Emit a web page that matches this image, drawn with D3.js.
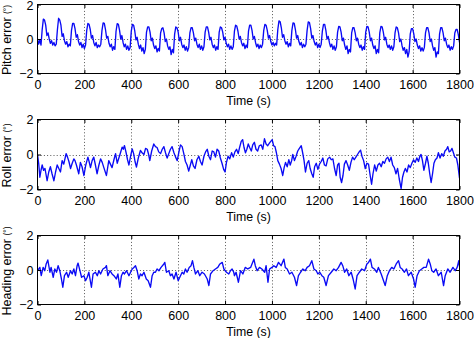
<!DOCTYPE html>
<html><head><meta charset="utf-8">
<script src="https://cdn.jsdelivr.net/npm/d3@7"></script>
<style>
body{margin:0;background:#fff}
svg{display:block}
text{font-family:"Liberation Sans",Arial,Helvetica,sans-serif;fill:#000}
</style>
</head><body>
<svg id="chart" width="474" height="338"></svg>
<script>
// ---------- data ----------
const xTicks = [0,200,400,600,800,1000,1200,1400,1600,1800];
const yTicks = [-2,0,2];
const yTickLabels = ["\u22122","0","2"];
const xLabel = "Time (s)";
const yLabels = ["Pitch error","Roll error","Heading error"];
const unitLabel = "(\u00b0)";

// pitch error sampled every 5 s (0..1800)
const pitchStep = 5;
const pitch = [
0.0,-0.3,-0.05,-0.35,0.55,
1.15,1.1,0.8,0.2,0.35,0.0,-0.25,-0.1,-0.35,-0.2,-0.4,-0.3,0.55,
1.2,1.1,0.8,0.15,0.3,-0.1,-0.3,-0.15,-0.45,-0.3,-0.4,0.5,
0.9,0.9,0.6,0.1,0.25,-0.15,-0.35,-0.2,-0.5,-0.3,-0.55,-0.35,0.5,
0.9,0.85,0.55,0.05,0.2,-0.2,-0.4,-0.2,-0.5,-0.35,-0.45,-0.3,0.5,
0.93,0.9,0.55,0.05,0.15,-0.25,-0.45,-0.3,-0.65,-0.45,-0.6,0.45,
0.89,0.85,0.5,0.0,0.2,-0.2,-0.45,-0.3,-0.6,-0.4,-0.65,-0.5,0.45,
0.85,0.8,0.45,-0.05,0.1,-0.3,-0.55,-0.35,-0.7,-0.5,-0.85,-0.6,0.4,
0.7,0.7,0.4,-0.1,0.05,-0.35,-0.55,-0.4,-0.75,-0.55,-0.7,0.35,
0.6,0.65,0.35,-0.15,0.0,-0.4,-0.6,-0.45,-0.9,-0.6,-0.8,0.3,
0.7,0.65,0.4,-0.1,0.1,-0.3,-0.5,-0.35,-0.65,-0.45,-0.7,-0.5,0.35,
0.66,0.65,0.35,-0.1,0.05,-0.3,-0.5,-0.3,-0.6,-0.4,-0.65,-0.45,0.4,
0.7,0.7,0.4,-0.05,0.1,-0.3,-0.5,-0.35,-0.65,-0.45,-0.6,0.4,
0.7,0.65,0.4,-0.05,0.1,-0.25,-0.45,-0.3,-0.6,-0.4,-0.6,-0.45,0.45,
0.8,0.75,0.45,0.0,0.15,-0.2,-0.4,-0.25,-0.55,-0.35,-0.5,0.45,
0.8,0.8,0.5,0.0,0.15,-0.2,-0.45,-0.3,-0.55,-0.35,-0.5,-0.3,0.5,
0.85,0.8,0.5,0.05,0.2,-0.15,-0.35,-0.2,-0.4,-0.25,-0.35,0.55,
1.05,1.0,0.65,0.1,0.25,-0.1,-0.3,-0.15,-0.45,-0.25,-0.4,0.5,
0.93,0.9,0.55,0.05,0.2,-0.15,-0.35,-0.2,-0.5,-0.3,-0.45,-0.3,0.5,
0.99,0.95,0.6,0.05,0.2,-0.15,-0.35,-0.2,-0.5,-0.3,-0.5,-0.3,0.45,
0.85,0.85,0.5,0.0,0.15,-0.2,-0.45,-0.3,-0.6,-0.4,-0.65,-0.45,0.4,
0.73,0.7,0.4,-0.1,0.05,-0.35,-0.6,-0.4,-0.85,-0.6,-0.75,0.35,
0.66,0.65,0.35,-0.1,0.05,-0.3,-0.5,-0.35,-0.65,-0.45,-0.6,0.4,
0.73,0.7,0.4,-0.1,0.05,-0.35,-0.55,-0.4,-0.85,-0.6,-0.8,0.35,
0.73,0.7,0.4,-0.05,0.1,-0.3,-0.5,-0.35,-0.6,-0.4,-0.65,-0.45,0.35,
0.7,0.65,0.35,-0.15,0.0,-0.4,-0.65,-0.5,-0.85,-0.6,-1.05,-0.75,0.3,
0.6,0.6,0.3,-0.15,0.0,-0.35,-0.55,-0.4,-0.7,-0.5,-0.7,-0.5,0.35,
0.66,0.65,0.35,-0.15,0.0,-0.4,-0.65,-0.5,-1.05,-0.75,-0.85,0.3,
0.66,0.65,0.35,-0.1,0.05,-0.3,-0.5,-0.35,-0.65,-0.45,-0.6,-0.4,0.35,
0.55,0.55,0.25,-0.2
];

// roll error [time s, degrees]
const roll = [
[0,0.0],[5,-0.5],[10,-1.3],[15,-0.9],[20,-0.6],[26,-0.9],[32,-0.8],[41,-1.5],[48,-1.0],[55,-0.7],
[62,-1.1],[70,-1.5],[77,-1.0],[84,-0.6],[91,-0.8],[98,-1.0],[105,-0.35],[112,-0.55],[122,0.05],[128,-0.15],
[134,-0.4],[141,-0.8],[148,-0.5],[155,-0.25],[160,-0.35],[166,-0.6],[176,-1.1],[183,-0.45],[190,-0.7],[198,-1.2],
[206,-0.6],[215,-0.15],[220,-0.4],[226,-0.75],[233,-0.35],[240,-0.15],[247,-0.6],[254,-1.1],[262,-0.6],[269,-0.25],
[276,-0.45],[283,-0.75],[294,-1.2],[304,-0.35],[311,-0.55],[318,-0.75],[326,-0.3],[333,0.05],[340,-0.5],[347,-0.2],
[354,0.1],[361,0.42],[366,0.3],[371,0.51],[378,0.1],[384,-0.3],[390,-0.6],[397,-0.1],[404,0.32],[410,0.05],
[416,-0.4],[422,-0.72],[430,-0.2],[439,0.23],[446,0.1],[454,0.0],[461,0.35],[468,0.3],[474,0.0],[479,-0.35],
[487,0.2],[496,0.6],[503,0.45],[510,0.4],[517,0.15],[525,0.05],[532,0.3],[539,0.45],[546,0.1],[553,-0.2],
[560,0.05],[567,0.3],[574,0.45],[582,0.1],[589,-0.15],[596,-0.35],[604,0.2],[610,0.55],[617,0.45],[624,0.05],
[631,-0.4],[638,-0.6],[645,-0.95],[652,-0.6],[658,-0.3],[665,-0.65],[672,-0.8],[680,-0.3],[688,-0.1],[695,-0.4],
[702,-0.6],[710,-0.1],[717,0.15],[724,0.3],[731,-0.1],[738,-0.3],[745,0.2],[752,0.15],[759,-0.15],[766,0.3],
[773,0.2],[780,-0.2],[787,-0.5],[794,-0.85],[800,-1.0],[806,-0.45],[813,-0.1],[820,-0.25],[828,0.1],[835,-0.15],
[842,0.15],[849,0.3],[856,0.05],[862,0.4],[869,0.75],[875,0.85],[881,0.4],[887,0.1],[893,0.3],[899,0.6],
[905,0.4],[912,0.2],[918,0.55],[925,0.7],[932,0.3],[939,0.2],[946,0.5],[954,0.55],[961,0.3],[968,0.9],
[975,0.6],[982,0.5],[989,0.65],[995,0.75],[1001,0.85],[1007,0.5],[1013,0.45],[1019,0.1],[1025,-0.35],[1032,-0.55],
[1039,-0.8],[1046,-1.2],[1052,-0.75],[1058,-0.45],[1065,-0.7],[1072,-0.3],[1078,-0.6],[1084,-0.35],[1089,0.0],[1096,-0.35],
[1103,-0.1],[1110,0.2],[1117,0.35],[1125,0.5],[1131,0.1],[1137,-0.35],[1143,-1.0],[1150,-0.5],[1157,-0.35],[1163,-0.8],
[1170,-1.1],[1176,-1.3],[1182,-0.7],[1189,-0.5],[1196,-0.85],[1203,-0.55],[1210,-0.4],[1217,-0.2],[1224,-0.6],[1231,-0.65],
[1238,-0.25],[1246,-0.15],[1253,-0.3],[1260,-0.25],[1267,-0.8],[1274,-1.2],[1280,-0.6],[1286,-0.5],[1291,-1.3],[1297,-1.6],
[1303,-1.2],[1309,-0.55],[1316,-0.35],[1323,-0.6],[1330,-0.9],[1337,-0.45],[1344,-0.15],[1351,-0.3],[1358,-0.15],[1365,0.0],
[1372,0.15],[1378,0.25],[1384,-0.1],[1391,-0.35],[1398,-0.8],[1405,-0.5],[1412,-0.55],[1419,-1.2],[1425,-1.7],[1431,-1.1],
[1438,-0.6],[1445,-0.95],[1452,-0.6],[1459,-0.5],[1466,-0.7],[1473,-0.4],[1480,-0.5],[1487,-0.25],[1494,-0.15],[1501,-0.4],
[1508,-0.15],[1515,-0.6],[1522,-0.75],[1529,-1.1],[1536,-0.8],[1543,-1.4],[1551,-1.95],[1557,-1.3],[1563,-1.0],[1569,-0.8],
[1576,-1.0],[1583,-0.6],[1590,-0.75],[1597,-0.5],[1604,-0.3],[1611,-0.45],[1618,-0.2],[1625,-0.4],[1631,-0.1],[1636,0.0],
[1642,-0.35],[1648,-0.9],[1655,-0.5],[1661,-0.1],[1667,-0.5],[1673,-1.1],[1679,-1.6],[1685,-1.1],[1691,-0.5],[1697,-0.3],
[1704,-0.2],[1710,0.1],[1717,-0.2],[1724,0.05],[1731,-0.1],[1738,0.2],[1745,0.3],[1750,0.45],[1756,0.15],[1762,0.2],
[1768,0.35],[1774,0.1],[1780,-0.15],[1787,-0.2],[1793,-0.6],[1800,-1.35]
];

// heading error [time s, degrees]
const heading = [
[0,-0.04],[10,0.15],[16,-0.33],[24,0.15],[31,-0.04],[37,0.35],[44,0.58],[53,-0.13],[58,0.15],[67,-0.42],
[74,0.06],[81,-0.13],[88,0.25],[95,-0.04],[102,-0.52],[108,-1.0],[115,-0.33],[124,-0.13],[131,-0.42],[141,-0.04],
[148,-0.23],[155,0.06],[162,-0.33],[169,0.25],[173,0.4],[181,-0.04],[188,-0.42],[198,-0.33],[205,-0.62],[212,-0.42],
[219,-0.13],[230,-1.0],[237,-0.23],[247,-0.13],[255,-0.33],[262,-0.04],[269,-0.23],[279,0.06],[290,0.15],[294,0.25],
[300,-0.33],[309,-0.04],[318,-0.23],[326,-0.33],[336,-0.52],[343,-0.23],[351,-1.0],[358,-0.33],[365,-0.13],[371,-0.23],
[380,-0.04],[390,-0.33],[397,-0.13],[404,0.06],[411,0.15],[418,0.25],[425,-0.04],[432,-0.52],[439,-0.23],[446,-0.33],
[454,-0.13],[464,-0.52],[472,-0.62],[482,-1.0],[489,-0.33],[496,-0.13],[503,-0.13],[510,0.06],[518,-0.04],[527,0.15],
[539,0.35],[543,0.44],[550,-0.13],[560,-0.04],[567,-0.33],[574,-0.23],[582,-0.52],[591,-0.13],[600,-0.62],[607,-0.42],
[617,-0.13],[624,-0.23],[631,0.06],[638,-0.13],[647,0.15],[655,0.25],[661,0.54],[667,0.15],[674,-0.23],[684,-0.04],
[692,-0.33],[702,-0.13],[712,-0.23],[724,-0.52],[731,-0.9],[738,-0.23],[749,-0.04],[759,0.06],[769,0.15],[778,0.35],
[788,0.44],[795,0.06],[806,-0.13],[816,-0.23],[823,-0.04],[830,0.06],[837,-0.13],[840,-0.33],[847,-0.13],[857,-0.71],
[866,-0.04],[876,-0.23],[886,0.15],[897,0.06],[909,0.15],[923,0.63],[929,0.25],[937,-0.04],[947,0.15],[957,0.06],
[969,-0.13],[975,0.25],[983,-0.71],[990,0.06],[1000,0.15],[1008,0.25],[1018,0.15],[1028,0.44],[1039,0.25],[1051,0.63],
[1057,0.15],[1065,0.06],[1075,-0.23],[1085,-0.13],[1096,-0.42],[1105,-0.9],[1113,-0.33],[1122,-0.13],[1132,0.06],[1142,-0.04],
[1150,0.15],[1160,0.25],[1170,0.54],[1179,0.06],[1189,-0.04],[1196,-0.23],[1204,-0.13],[1213,-0.33],[1221,-0.42],[1231,-0.9],
[1241,-0.33],[1253,-0.13],[1264,0.06],[1274,-0.04],[1284,0.15],[1295,0.44],[1302,0.25],[1310,-0.13],[1319,0.06],[1328,-0.33],
[1338,-0.13],[1346,-0.52],[1355,-1.1],[1363,-0.33],[1373,-0.13],[1383,0.06],[1395,-0.04],[1405,0.35],[1412,0.44],[1420,0.63],
[1427,0.15],[1437,0.06],[1447,-0.13],[1454,0.15],[1466,-0.23],[1476,-0.62],[1483,-0.9],[1492,-0.33],[1501,-0.04],[1511,0.15],
[1520,0.06],[1530,0.35],[1540,0.54],[1547,0.15],[1555,0.06],[1565,-0.13],[1574,0.06],[1582,-0.33],[1594,-0.13],[1604,-0.52],
[1611,-1.0],[1619,-0.33],[1629,-0.04],[1639,0.06],[1648,0.15],[1658,0.15],[1668,0.63],[1675,0.35],[1682,-0.04],[1690,-0.13],
[1700,0.06],[1710,-0.33],[1722,-0.13],[1732,-0.9],[1739,-0.33],[1750,0.06],[1760,-0.13],[1772,0.15],[1782,-0.04],[1790,0.15],
[1797,0.54],[1800,0.2]
];

// ---------- drawing ----------
const svg = d3.select("#chart");
const panels = [
  {data: pitch.map((v,i)=>[i*pitchStep, v]), top: 4.5, bottom: 73.5, label: yLabels[0]},
  {data: roll, top: 119.5, bottom: 189.5, label: yLabels[1]},
  {data: heading, top: 235.5, bottom: 304.5, label: yLabels[2]}
];
const left = 37.5, right = 459.5;
const x = d3.scaleLinear().domain([0,1800]).range([left,right]);

panels.forEach((p, k) => {
  const y = d3.scaleLinear().domain([-2,2]).range([p.bottom, p.top]);
  const g = svg.append("g");

  // grid
  g.append("g").selectAll("line").data(xTicks.filter(t=>t>0 && t<1800)).join("line")
    .attr("x1", d=>Math.round(x(d))+0.5).attr("x2", d=>Math.round(x(d))+0.5)
    .attr("y1", p.top).attr("y2", p.bottom)
    .attr("stroke","#444").attr("stroke-width",0.9).attr("stroke-dasharray","1,2.2");
  g.append("line").attr("x1", left).attr("x2", right)
    .attr("y1", Math.round(y(0))+0.5).attr("y2", Math.round(y(0))+0.5)
    .attr("stroke","#444").attr("stroke-width",0.9).attr("stroke-dasharray","1,2.2");

  // data line
  const clipId = "clip"+k;
  svg.append("clipPath").attr("id", clipId).append("rect")
    .attr("x", left).attr("y", p.top).attr("width", right-left).attr("height", p.bottom-p.top);
  g.append("path").datum(p.data)
    .attr("clip-path", `url(#${clipId})`)
    .attr("fill","none").attr("stroke","#0a0af5").attr("stroke-width",1.35)
    .attr("stroke-linejoin","round")
    .attr("d", d3.line().x(d=>x(d[0])).y(d=>y(d[1])));

  // axes
  const ax = g.append("g").attr("transform",`translate(0,${p.bottom})`)
    .call(d3.axisBottom(x).tickValues(xTicks).tickSizeInner(-3.5).tickSizeOuter(0).tickPadding(7).tickFormat(d3.format("d")));
  ax.select(".domain").remove();
  ax.selectAll("text").attr("font-size","12.5px").attr("font-family","Liberation Sans, Arial, sans-serif");
  const axt = g.append("g").attr("transform",`translate(0,${p.top})`)
    .call(d3.axisTop(x).tickValues(xTicks).tickSizeInner(-3.5).tickSizeOuter(0).tickFormat(""));
  axt.select(".domain").remove();
  const ay = g.append("g").attr("transform",`translate(${left},0)`)
    .call(d3.axisLeft(y).tickValues(yTicks).tickSizeInner(-3.5).tickSizeOuter(0).tickPadding(4)
      .tickFormat((d,i)=>yTickLabels[i]));
  ay.select(".domain").remove();
  ay.selectAll("text").attr("font-size","12.5px").attr("font-family","Liberation Sans, Arial, sans-serif");
  if (k === 0) ay.selectAll("text").filter(d=>d===2).attr("dy","0.42em");
  const ayr = g.append("g").attr("transform",`translate(${right},0)`)
    .call(d3.axisRight(y).tickValues(yTicks).tickSizeInner(-3.5).tickSizeOuter(0).tickFormat(""));
  ayr.select(".domain").remove();
  g.selectAll(".tick line").attr("stroke","#000");

  // frame
  g.append("rect").attr("x", left).attr("y", p.top).attr("width", right-left).attr("height", p.bottom-p.top)
    .attr("fill","none").attr("stroke","#000").attr("stroke-width",1);

  // x label
  g.append("text").attr("x", (left+right)/2).attr("y", p.bottom+31)
    .attr("text-anchor","middle").attr("font-size","12.3px").text(xLabel);

  // y label
  const cy = (p.top+p.bottom)/2 + 1;
  const yl = g.append("text").attr("transform",`translate(11,${cy}) rotate(-90)`)
    .attr("text-anchor","middle").attr("font-size","12.5px");
  yl.append("tspan").text(p.label + " ");
  yl.append("tspan").attr("font-size","8.5px").attr("dy","-1").text(unitLabel);
});
</script>
</body></html>
